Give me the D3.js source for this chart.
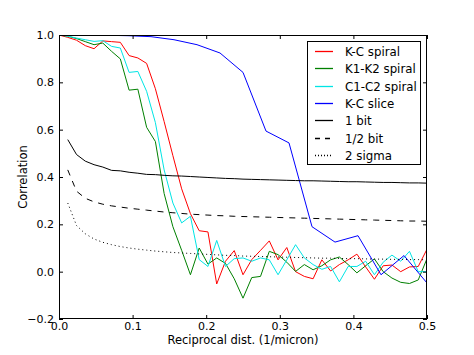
<!DOCTYPE html>
<html><head><meta charset="utf-8">
<script src="https://cdn.jsdelivr.net/npm/d3@7"></script>
<style>body{margin:0;background:#fff}svg{display:block}text{font-family:"DejaVu Sans",sans-serif}</style>
</head><body>
<svg id="c" width="474" height="355"></svg>
<script>
// fine grid: 43 points from 0 to 0.5
const fineStep = 0.5 / 42;
const coarseStep = 0.5 / 16;
const kcSpiral = [1.0,0.99,0.978,0.955,0.942,0.975,0.972,0.969,0.913,0.903,0.88,0.773,0.634,0.49,0.35,0.245,0.173,0.168,-0.052,0.044,0.089,-0.013,0.051,0.09,0.13,0.05,0.102,0.0,-0.02,-0.03,0.05,0.003,0.03,0.05,0.074,0.02,-0.032,0.025,0.028,0.0,0.02,0.022,0.095];
const k1k2Spiral = [1.0,0.995,0.985,0.972,0.959,0.966,0.931,0.899,0.767,0.771,0.61,0.55,0.33,0.19,0.09,-0.013,0.1,0.032,0.058,0.035,-0.03,-0.112,-0.025,-0.02,0.086,0.072,0.04,0.001,0.03,0.008,0.025,0.05,0.062,0.03,-0.005,0.025,0.054,0.0,-0.027,-0.045,-0.05,-0.035,0.055];
const c1c2Spiral = [1.0,0.995,0.987,0.98,0.973,0.976,0.952,0.945,0.842,0.846,0.762,0.63,0.43,0.29,0.206,0.234,0.051,0.022,0.132,0.022,0.055,0.058,0.044,0.058,0.05,-0.013,0.05,0.114,0.058,0.03,0.01,0.022,-0.043,0.022,0.022,0.044,-0.013,0.04,0.07,0.044,0.086,0.0,0.0];
const kcSlice = [1.0,1.0,0.999,0.997,0.993,0.98,0.959,0.924,0.842,0.594,0.544,0.19,0.125,0.152,-0.013,0.068,-0.048];
// threshold curves start at the second fine grid point
const oneBit = [0.558,0.495,0.467,0.452,0.442,0.428,0.426,0.42,0.416,0.411,0.41,0.407,0.405,0.404,0.402,0.4,0.398,0.396,0.394,0.393,0.391,0.39,0.389,0.388,0.387,0.386,0.385,0.384,0.384,0.383,0.382,0.381,0.380,0.380,0.379,0.378,0.377,0.377,0.376,0.375,0.375,0.374];
const halfBit = [0.43,0.34,0.31,0.295,0.285,0.278,0.273,0.268,0.264,0.26,0.256,0.252,0.249,0.246,0.243,0.241,0.239,0.237,0.236,0.234,0.233,0.232,0.231,0.23,0.229,0.228,0.227,0.226,0.225,0.224,0.223,0.222,0.221,0.22,0.219,0.218,0.217,0.216,0.215,0.214,0.214,0.213];
const twoSigma = [0.29,0.195,0.16,0.138,0.124,0.114,0.106,0.1,0.095,0.091,0.087,0.084,0.081,0.079,0.077,0.075,0.073,0.071,0.069,0.068,0.066,0.065,0.064,0.063,0.062,0.061,0.06,0.059,0.058,0.057,0.057,0.056,0.055,0.055,0.054,0.053,0.053,0.052,0.052,0.051,0.051,0.05];
const xTicks = [0.0,0.1,0.2,0.3,0.4,0.5];
const yTicks = [-0.2,0.0,0.2,0.4,0.6,0.8,1.0];
const seriesNames = ["K-C spiral","K1-K2 spiral","C1-C2 spiral","K-C slice","1 bit","1/2 bit","2 sigma"];
const seriesColors = ["#ff0000","#008000","#00e5e5","#0000ff","#000000","#000000","#000000"];

const svg = d3.select("#c");
const L = 59, R = 427, T = 35, B = 319;
const x = d3.scaleLinear().domain([0,0.5]).range([L,R]);
const y = d3.scaleLinear().domain([-0.2,1.0]).range([B,T]);
const fmt = v => d3.format(".1f")(v).replace("-", "\u2212");

const fine = (arr, off) => arr.map((v,i) => [(i+off)*fineStep, v]);
const coarse = arr => arr.map((v,i) => [i*coarseStep, v]);
const series = [
  {d: fine(kcSpiral,0), dash: null},
  {d: fine(k1k2Spiral,0), dash: null},
  {d: fine(c1c2Spiral,0), dash: null},
  {d: coarse(kcSlice), dash: null},
  {d: fine(oneBit,1), dash: null},
  {d: fine(halfBit,1), dash: "6,6"},
  {d: fine(twoSigma,1), dash: "1,3"}
];
const line = d3.line().x(d=>x(d[0])).y(d=>y(d[1]));
const g = svg.append("g");
g.append("defs").append("clipPath").attr("id","clip").append("rect").attr("x",L).attr("y",T).attr("width",R-L).attr("height",B-T);
const plot = g.append("g").attr("clip-path","url(#clip)");
series.forEach((s,i) => {
  plot.append("path").attr("d", line(s.d)).attr("fill","none")
    .attr("stroke", seriesColors[i]).attr("stroke-width",1)
    .attr("stroke-dasharray", s.dash);
});

// axes with inward ticks on all sides
const tl = 4;
const gxB = g.append("g").attr("transform",`translate(0,${B})`).call(d3.axisBottom(x).tickValues(xTicks).tickFormat(fmt).tickSizeInner(-tl).tickSizeOuter(0).tickPadding(3));
const gxT = g.append("g").attr("transform",`translate(0,${T})`).call(d3.axisTop(x).tickValues(xTicks).tickFormat("").tickSizeInner(-tl).tickSizeOuter(0));
const gyL = g.append("g").attr("transform",`translate(${L},0)`).call(d3.axisLeft(y).tickValues(yTicks).tickFormat(fmt).tickSizeInner(-tl).tickSizeOuter(0).tickPadding(5));
const gyR = g.append("g").attr("transform",`translate(${R},0)`).call(d3.axisRight(y).tickValues(yTicks).tickFormat("").tickSizeInner(-tl).tickSizeOuter(0));
[gxB,gxT,gyL,gyR].forEach(a => {
  a.select(".domain").remove();
  a.selectAll("line").attr("stroke","#000");
  a.selectAll("text").attr("fill","#000").style("font-size","11px").style("font-family","DejaVu Sans");
});
g.append("rect").attr("x",L+0.5).attr("y",T+0.5).attr("width",R-L-1).attr("height",B-T-1).attr("fill","none").attr("stroke","#000").attr("stroke-width",1);

// axis labels
g.append("text").attr("x",(L+R)/2).attr("y",344).attr("text-anchor","middle").style("font-size","11.5px").text("Reciprocal dist. (1/micron)");
g.append("text").attr("transform",`translate(27,${(T+B)/2}) rotate(-90)`).attr("text-anchor","middle").style("font-size","11.5px").text("Correlation");

// legend
const lg = svg.append("g").attr("class","legend");
lg.append("rect").attr("x",307.5).attr("y",41.5).attr("width",113).attr("height",123).attr("fill","#fff").attr("stroke","#000").attr("stroke-width",1);
const legDash = [null,null,null,null,null,"5,5","1,2"];
seriesNames.forEach((n,i) => {
  const yy = Math.round(51 + i*17.3) + 0.5;
  lg.append("path").attr("d", `M315,${yy}H333`).attr("fill","none")
    .style("stroke",seriesColors[i]).style("stroke-width","1.3px")
    .attr("stroke-dasharray",legDash[i]);
  lg.append("text").attr("x",345).attr("y",yy).attr("dy","0.35em").attr("fill","#000").style("font-size","11.8px").text(n);
});
</script>
</body></html>
